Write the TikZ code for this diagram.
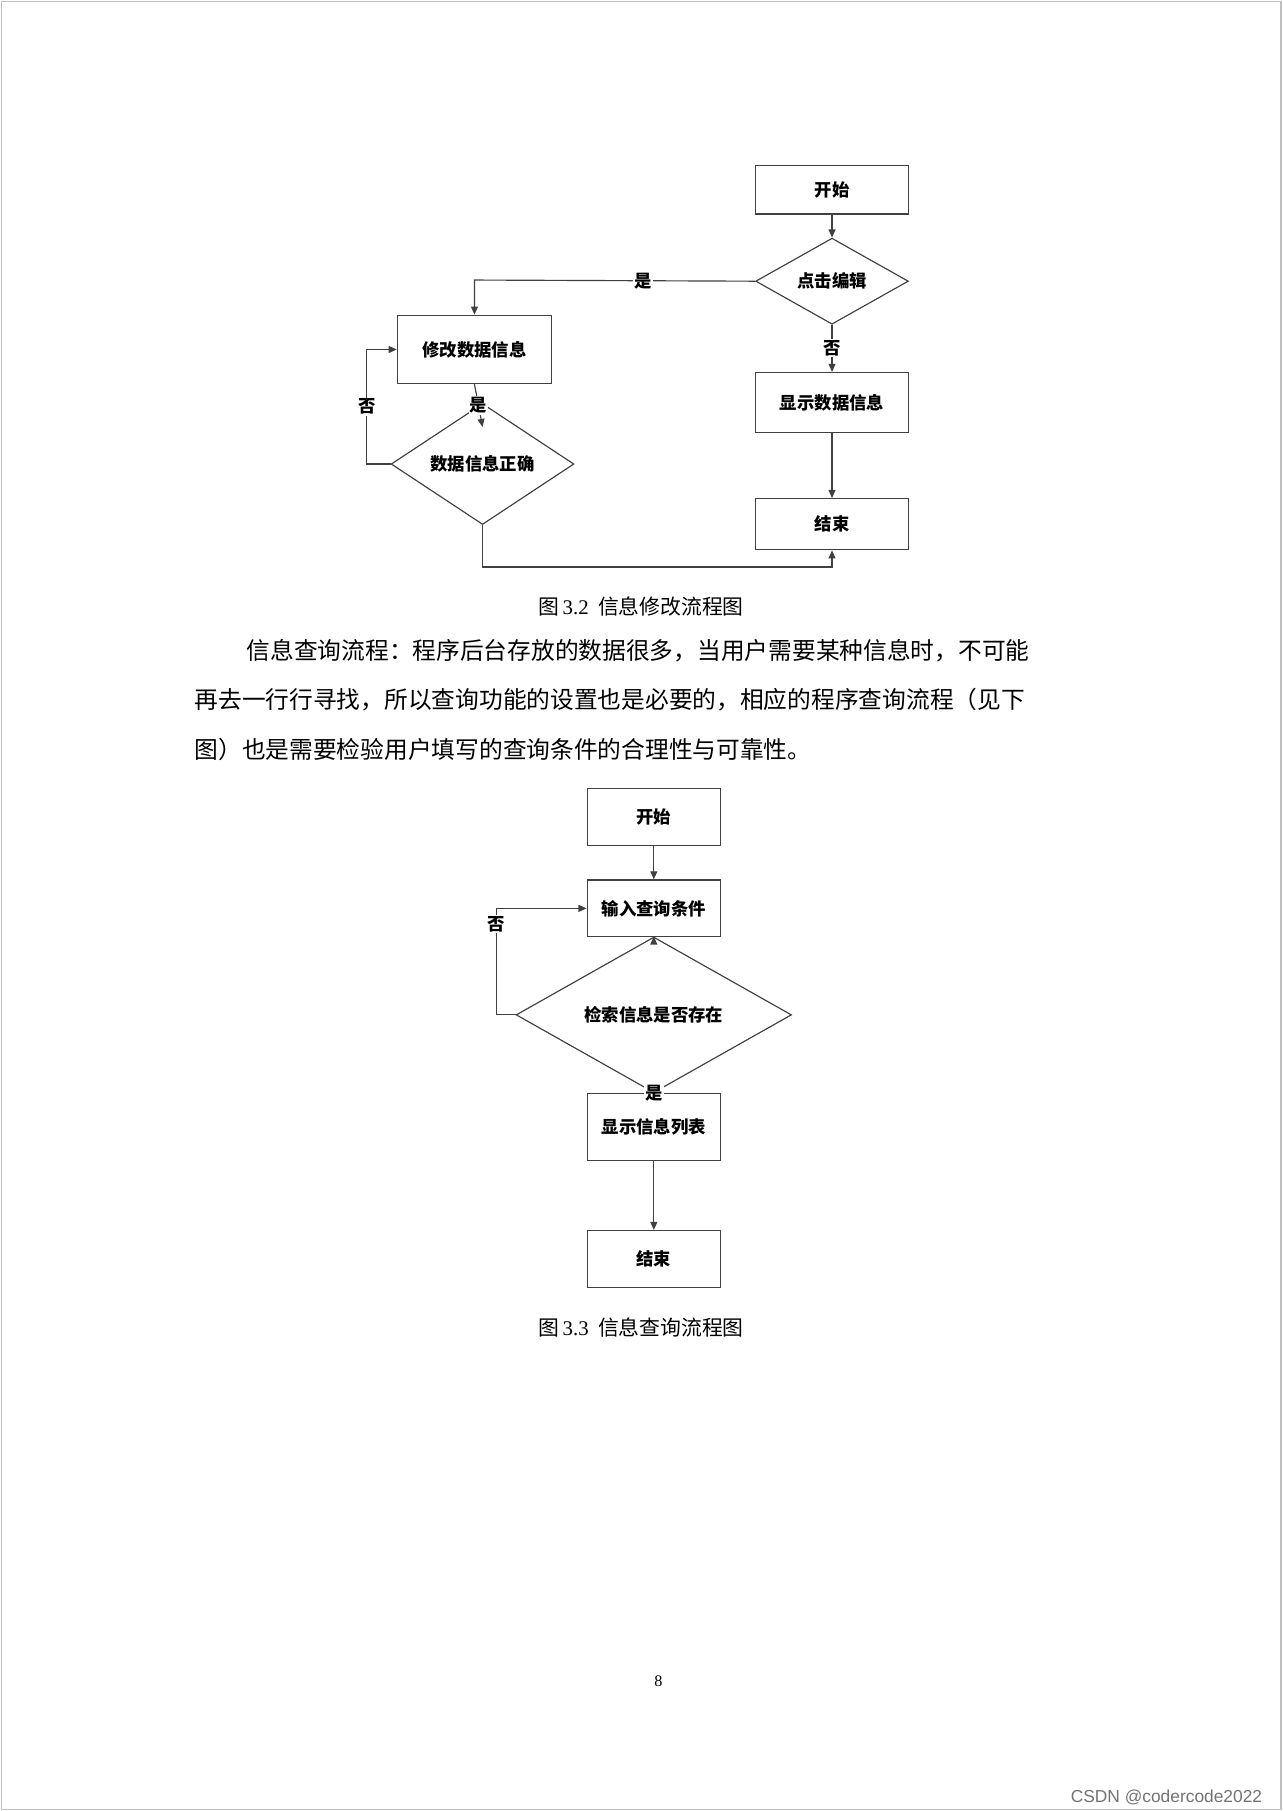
\documentclass[tikz,border=0pt]{standalone}
\usepackage{fontspec}
\setmainfont{Liberation Serif}
\newfontfamily\cjk{Noto Sans CJK SC}
\usetikzlibrary{shapes.geometric,arrows.meta}
\begin{document}
\begin{tikzpicture}[x=1pt,y=-1pt,
  bx/.style={draw=black!75,line width=1.2pt,minimum width=132pt,font=\cjk\bfseries\fontsize{15}{17}\selectfont,inner sep=0pt},
  dm/.style={draw=black!75,line width=1pt,diamond,aspect=2.3,inner sep=0pt,font=\cjk\bfseries\fontsize{15}{17}\selectfont},
  ln/.style={draw=black!75,line width=1pt},
  ar/.style={ln,-{Triangle[length=7pt,width=6pt]}},
  lb/.style={font=\cjk\bfseries\fontsize{15}{17}\selectfont,fill=white,inner sep=1pt},
  tx/.style={font=\cjk\fontsize{20.5}{22}\selectfont,anchor=west,inner sep=0pt}]
\useasboundingbox (0,0) rectangle (1108,1565);
\draw[black!25,line width=1pt] (1,1) rectangle (1107,1564);
% Figure 3.2
\node[bx,minimum height=42pt] (s1) at (719,164) {开始};
\node[draw=black!75,line width=1pt,diamond,minimum width=132pt,minimum height=58pt,inner sep=0pt,font=\cjk\bfseries\fontsize{15}{17}\selectfont] (d1) at (719,243) {点击编辑};
\node[bx,minimum height=59pt,minimum width=133pt] (m1) at (410,302) {修改数据信息};
\node[bx,minimum height=52pt] (v1) at (719,348) {显示数据信息};
\node[draw=black!75,line width=1pt,diamond,minimum width=158pt,minimum height=65pt,inner sep=0pt,font=\cjk\bfseries\fontsize{15}{17}\selectfont] (d2) at (417,401) {数据信息正确};
\node[bx,minimum height=44pt] (e1) at (719,453) {结束};
\draw[ar] (s1) -- (d1);
\draw[ar] (d1.west) -- (410,242) node[lb,pos=0.4] {是} -- (m1.north);
\draw[ar] (d1.south) -- (v1.north) node[lb,midway] {否};
\draw[ar] (v1) -- (e1);
\draw[ar] (410,332) -- (417,369) node[lb,midway] {是};
\draw[ar] (d2.west) -- (317,401) -- (317,302) node[lb,pos=0.5] {否} -- (m1.west);
\coordinate (c1) at (417,490);
\draw[ar] (d2.south) -- (c1) -- (719,490) -- (e1.south);
\node[font=\cjk\fontsize{18}{20}\selectfont] (cap1) at (554,524) {图\,{\rmfamily 3.2}\ \ 信息修改流程图};
% Paragraph
\node[tx] (p1) at (213,562) {信息查询流程：程序后台存放的数据很多，当用户需要某种信息时，不可能};
\node[tx] (p2) at (168,605) {再去一行行寻找，所以查询功能的设置也是必要的，相应的程序查询流程（见下};
\node[tx] (p3) at (168,648) {图）也是需要检验用户填写的查询条件的合理性与可靠性。};
% Figure 3.3
\node[bx,minimum width=115pt,minimum height=49pt] (s2) at (565,706) {开始};
\node[bx,minimum width=115pt,minimum height=49pt] (q2) at (565,785) {输入查询条件};
\node[draw=black!75,line width=1pt,diamond,minimum width=238pt,minimum height=69pt,inner sep=0pt,font=\cjk\bfseries\fontsize{15}{17}\selectfont] (d3) at (565,877) {检索信息是否存在};
\node[bx,minimum width=115pt,minimum height=58pt] (v2) at (565,974) {显示信息列表};
\node[bx,minimum width=115pt,minimum height=49pt] (e2) at (565,1088) {结束};
\draw[ar] (s2) -- (q2);
\draw[ar] (q2) -- (d3.north);
\draw[ar] (d3.south) -- (v2.north) node[lb,midway] {是};
\draw[ar] (v2) -- (e2);
\draw[ar] (d3.west) -- (429,877) -- (429,785) node[lb,pos=0.85] {否} -- (q2.west);
\node[font=\cjk\fontsize{18}{20}\selectfont] (cap2) at (554,1147) {图\,{\rmfamily 3.3}\ \ 信息查询流程图};
\node[font=\fontsize{14}{16}\selectfont] (pg) at (569,1453) {8};
\node[font=\fontspec{Liberation Sans}\fontsize{15}{17}\selectfont,text=black!55] (wm) at (1008,1553) {CSDN @codercode2022};
\end{tikzpicture}
\end{document}
